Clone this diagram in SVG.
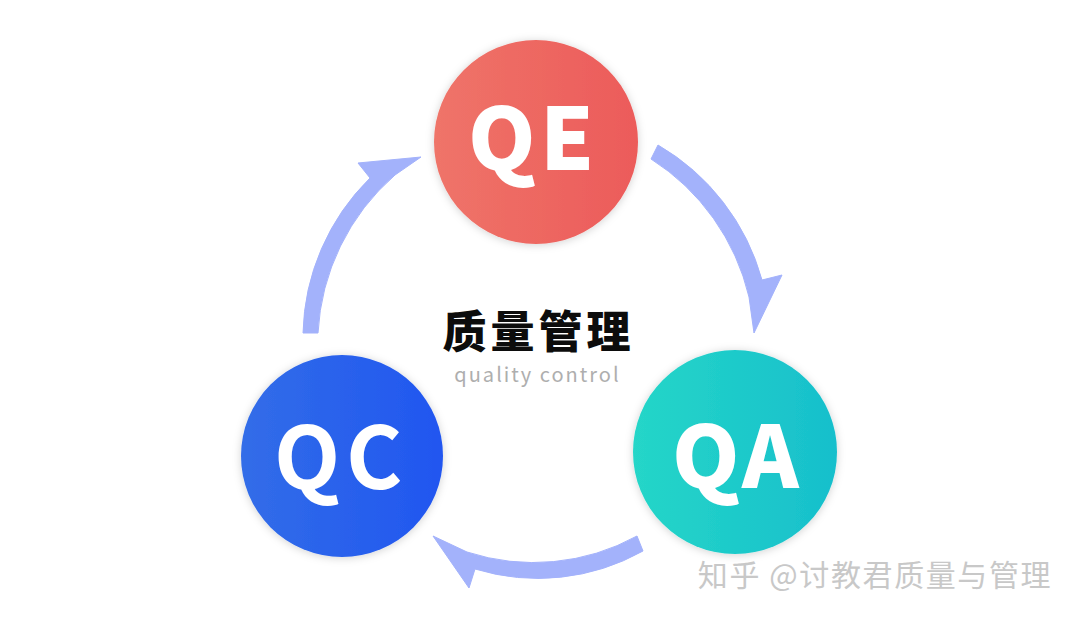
<svg xmlns="http://www.w3.org/2000/svg" width="1080" height="620" viewBox="0 0 1080 620">
<style>
.arrow{fill:#a3b2fb;stroke:#a3b2fb;stroke-width:1;stroke-linejoin:round}
.letter{font-family:"Noto Sans CJK SC","Noto Sans",sans-serif;font-weight:900;fill:#fff;font-size:86px}
.node{filter:url(#soft)}
</style>
<defs>
<filter id="soft" x="-20%" y="-20%" width="140%" height="140%"><feDropShadow dx="0" dy="1" stdDeviation="4" flood-color="#000" flood-opacity=".18"/></filter>
<linearGradient id="gE"><stop offset="0" stop-color="#ef7469"/><stop offset="1" stop-color="#ec5b5a"/></linearGradient>
<linearGradient id="gA"><stop offset="0" stop-color="#25d6c8"/><stop offset="1" stop-color="#17bfcc"/></linearGradient>
<linearGradient id="gC"><stop offset="0" stop-color="#326de8"/><stop offset="1" stop-color="#2156f0"/></linearGradient>
</defs>
<rect width="1080" height="620" fill="#fff"/>
<g id="connectors">
<path class="arrow" d="M658 145A225 225 0 0 1 762 280L782 275L754 333L749 297A225 225 0 0 0 651 159Z"/>
<path class="arrow" d="M303 333A225 225 0 0 1 370 178L358 163L421 157L395 175A225 225 0 0 0 318 333Z"/>
<path class="arrow" d="M637 536A215 215 0 0 1 467 552L433 536L469 588L475 569A215 215 0 0 0 643 551Z"/>
</g>
<g id="node-qe"><circle class="node" cx="536" cy="142" r="102" fill="url(#gE)"/><text class="letter" x="468 540" y="170">QE</text></g>
<g id="node-qa"><circle class="node" cx="735" cy="452" r="102" fill="url(#gA)"/><text class="letter" x="672 742" y="488">QA</text></g>
<g id="node-qc"><circle class="node" cx="342" cy="456" r="101" fill="url(#gC)"/><text class="letter" style="font-weight:700" x="274 346" y="489">QC</text></g>
<g id="center">
<text x="538.5" y="348" text-anchor="middle" font-family="'Noto Sans CJK SC',sans-serif" font-weight="900" font-size="44" letter-spacing="4" fill="#0c0c0c">质量管理</text>
<text x="537.5" y="382" text-anchor="middle" font-family="'Noto Sans CJK SC','Noto Sans',sans-serif" font-size="20" letter-spacing="2" fill="#aeaeae">quality control</text>
</g>
<text id="watermark" x="875" y="586" text-anchor="middle" font-family="'Noto Sans CJK SC',sans-serif" font-size="30" letter-spacing="1.6" fill="#c8c8c8">知乎 @讨教君质量与管理</text>
</svg>
